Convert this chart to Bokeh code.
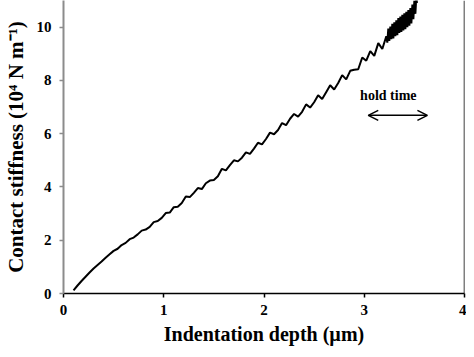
from bokeh.plotting import figure
from bokeh.models import Span, Label, Arrow, OpenHead, FixedTicker
from bokeh.embed import file_html
from bokeh.resources import INLINE

# Indentation depth (µm) and contact stiffness (10^4 N m^-1)
depth = [0.10, 0.14, 0.18, 0.22, 0.26, 0.30, 0.34, 0.38, 0.42, 0.46,
         0.50, 0.54, 0.58, 0.62, 0.66, 0.70, 0.74, 0.78, 0.82, 0.86,
         0.90, 0.94, 0.98, 1.02, 1.06, 1.10, 1.14, 1.18, 1.22, 1.26,
         1.30, 1.34, 1.38, 1.42, 1.46, 1.50, 1.54, 1.58, 1.62, 1.66,
         1.70, 1.74, 1.78, 1.82, 1.86, 1.90, 1.94, 1.98, 2.02, 2.06,
         2.10, 2.14, 2.18, 2.22, 2.26, 2.30, 2.34, 2.38, 2.42, 2.46,
         2.50, 2.54, 2.58, 2.62, 2.66, 2.70, 2.74, 2.78, 2.82, 2.86,
         2.90, 2.94, 2.98, 3.02, 3.06, 3.10, 3.14, 3.18, 3.22,
         3.23, 3.24, 3.25, 3.26, 3.27, 3.28, 3.29, 3.30, 3.31, 3.32,
         3.33, 3.34, 3.35, 3.36, 3.37, 3.38, 3.39, 3.40, 3.41, 3.42,
         3.43, 3.44, 3.45, 3.46, 3.47, 3.48, 3.49, 3.50, 3.51, 3.52, 3.525]
stiffness = [0.12, 0.30, 0.47, 0.63, 0.79, 0.94, 1.07, 1.20, 1.34, 1.47,
             1.60, 1.68, 1.82, 1.90, 2.04, 2.10, 2.22, 2.36, 2.40, 2.50,
             2.68, 2.72, 2.84, 3.02, 3.04, 3.24, 3.26, 3.40, 3.64, 3.62,
             3.78, 3.96, 3.92, 4.14, 4.24, 4.26, 4.40, 4.68, 4.62, 4.82,
             5.00, 4.96, 5.10, 5.30, 5.24, 5.44, 5.66, 5.60, 5.80, 6.04,
             5.98, 6.14, 6.40, 6.32, 6.56, 6.74, 6.64, 6.82, 7.10, 6.98,
             7.18, 7.44, 7.30, 7.56, 7.82, 7.66, 7.90, 8.20, 8.04, 8.36,
             8.40, 8.42, 8.86, 8.74, 9.10, 8.92, 9.40, 9.18, 9.66,
             9.42, 9.95, 9.48, 10.02, 9.55, 10.12, 9.58, 10.18, 9.66, 10.26,
             9.70, 10.34, 9.78, 10.40, 9.82, 10.46, 9.88, 10.52, 9.92, 10.58,
             10.00, 10.64, 10.05, 10.72, 10.14, 10.85, 10.30, 11.00, 10.50, 11.20, 10.90]

x_ticks = [0, 1, 2, 3, 4]
y_ticks = [0, 2, 4, 6, 8, 10]

x_title = "Indentation depth (µm)"
y_title = "Contact stiffness (10⁴ N m⁻¹)"

hold_label = "hold time"
hold_label_pos = (3.24, 7.44)
hold_arrow = (3.04, 3.63, 6.69)

SERIF = "Liberation Serif"

p = figure(width=466, height=349, output_backend="svg", toolbar_location=None,
           x_range=(0, 4), y_range=(0, 11.0),
           min_border_left=62, min_border_right=2, min_border_top=0, min_border_bottom=56)
p.outline_line_color = None
p.xgrid.visible = False
p.ygrid.visible = False

p.line(depth, stiffness, line_color="black", line_width=2)

p.xaxis.ticker = FixedTicker(ticks=x_ticks)
p.yaxis.ticker = FixedTicker(ticks=y_ticks)
p.xaxis.axis_label = x_title
p.yaxis.axis_label = y_title

for ax in (p.xaxis[0], p.yaxis[0]):
    ax.major_label_text_font = SERIF
    ax.major_label_text_font_style = "bold"
    ax.major_label_text_font_size = "15px"
    ax.major_label_text_color = "black"
    ax.axis_label_text_font = SERIF
    ax.axis_label_text_font_style = "bold"
    ax.axis_label_text_color = "black"
    ax.minor_tick_line_color = None
    ax.major_tick_in = 0
    ax.major_tick_out = 4

p.xaxis.axis_label_text_font_size = "20px"
p.yaxis.axis_label_text_font_size = "21px"

p.xaxis.axis_line_color = "black"
p.xaxis.axis_line_width = 1.5
p.xaxis.major_tick_line_color = "black"
p.xaxis.major_tick_line_width = 1.5
p.xaxis.major_label_standoff = 7
p.xaxis.axis_label_standoff = 5

p.yaxis.axis_line_color = "#8c8c8c"
p.yaxis.axis_line_width = 2
p.yaxis.major_tick_line_color = "#8c8c8c"
p.yaxis.major_tick_line_width = 1.5
p.yaxis.major_label_standoff = 8
p.yaxis.axis_label_standoff = 6

p.add_layout(Span(location=4, dimension="height", line_color="black", line_width=1.5))

p.add_layout(Label(x=hold_label_pos[0], y=hold_label_pos[1], text=hold_label,
                   text_font=SERIF, text_font_style="bold", text_font_size="14px",
                   text_color="black", text_align="center", text_baseline="middle"))
p.add_layout(Arrow(x_start=hold_arrow[0], x_end=hold_arrow[1], y_start=hold_arrow[2], y_end=hold_arrow[2],
                   line_width=1.5, line_color="black",
                   start=OpenHead(size=10, line_width=1.5), end=OpenHead(size=10, line_width=1.5)))

open("out.html", "w").write(file_html(p, INLINE))
